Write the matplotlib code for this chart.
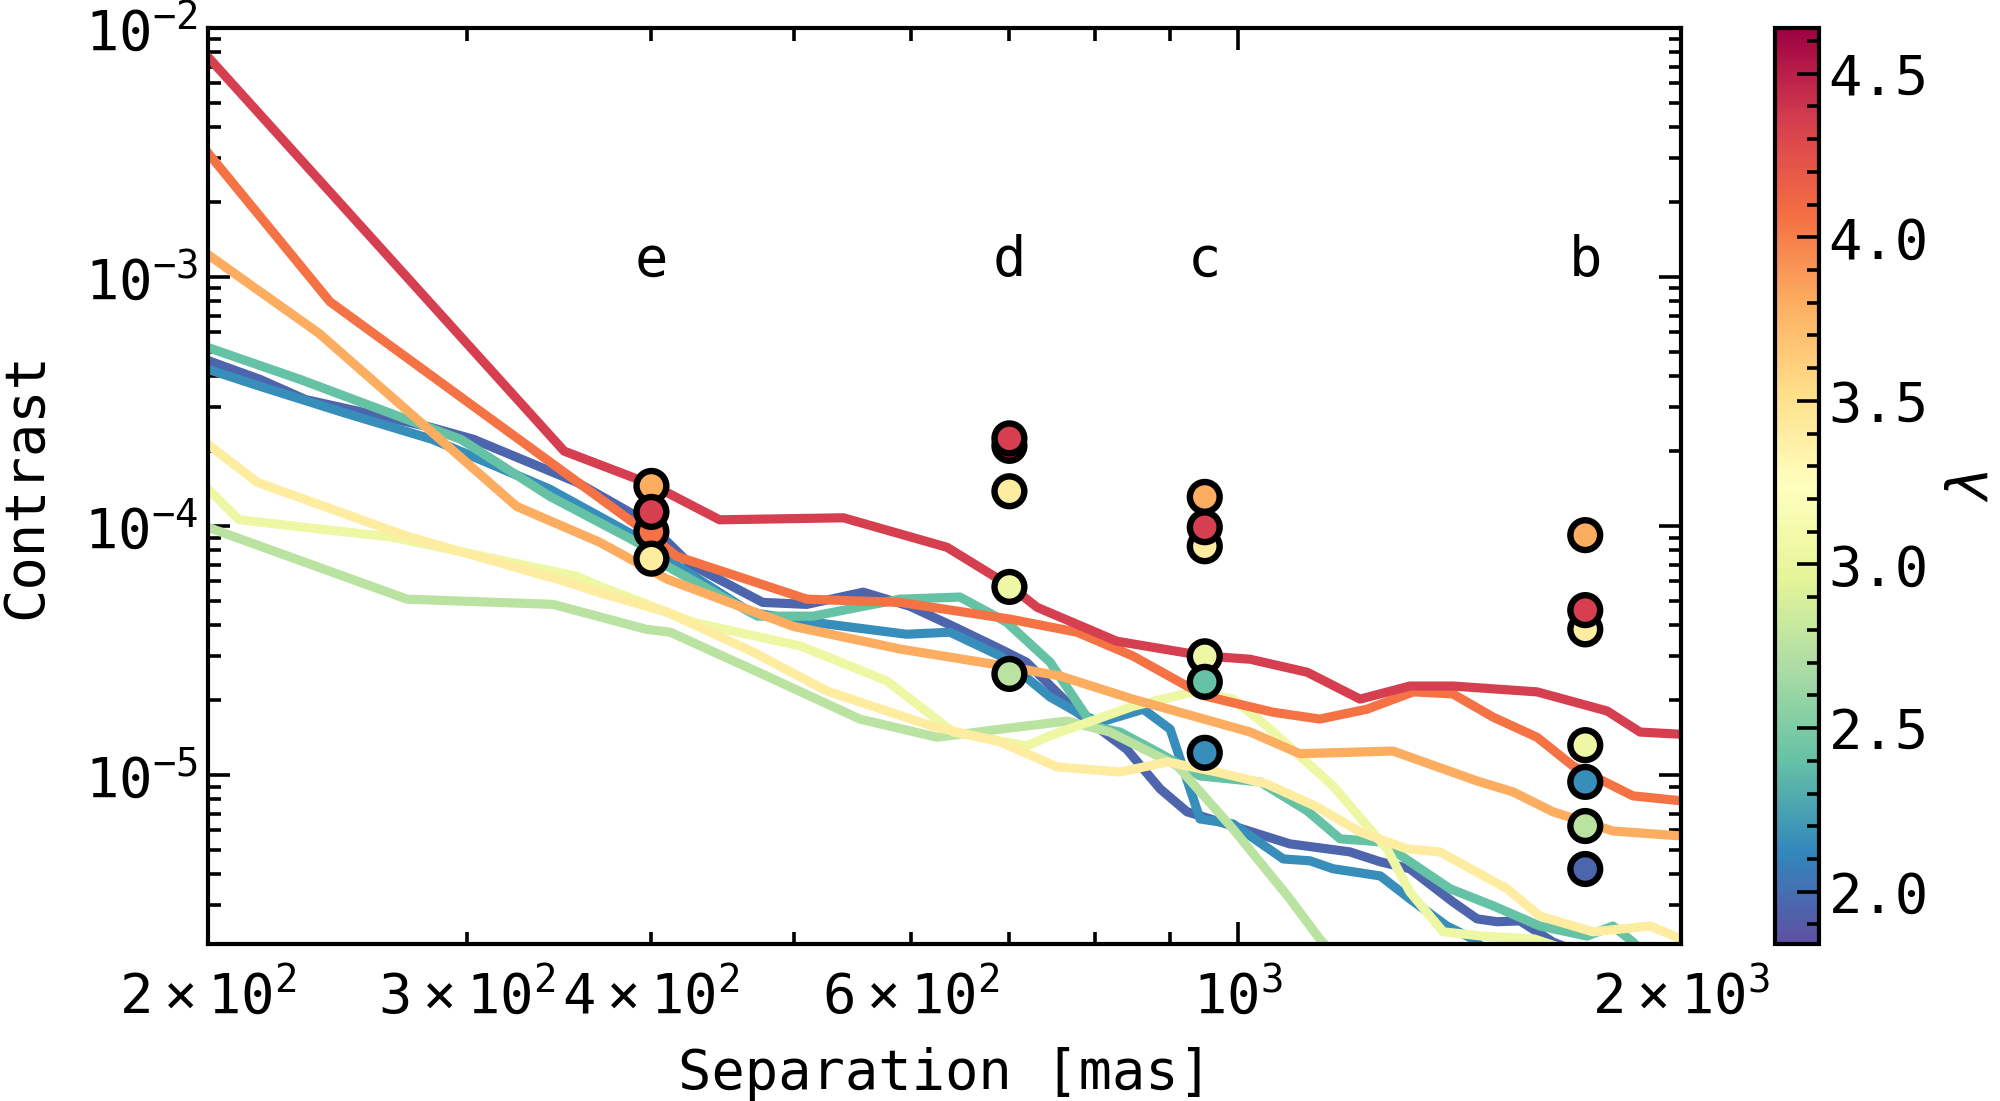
import matplotlib
matplotlib.use("Agg")
import matplotlib.pyplot as plt
from matplotlib.colors import Normalize
import numpy as np

plt.rcParams["font.family"] = "DejaVu Sans Mono"
plt.rcParams["mathtext.fontset"] = "custom"
plt.rcParams["mathtext.rm"] = "DejaVu Sans Mono"
plt.rcParams["font.size"] = 20

# contrast curves, one per wavelength [micron]
curve_lam = [1.95, 2.15, 2.4, 2.75, 3.05, 3.4, 3.8, 4.05, 4.35]

sep_195 = [200, 217, 233, 282, 303, 356, 397, 400, 425, 476, 510, 557, 599, 641, 690, 719, 778,
           841, 886, 924, 993, 1085, 1192, 1250, 1309, 1400, 1454, 1500, 1555, 1637, 1760]
con_195 = [4.62e-4, 3.88e-4, 3.22e-4, 2.51e-4, 2.23e-4, 1.50e-4, 1.04e-4, 9.98e-5, 7.03e-5, 4.94e-5,
           4.85e-5, 5.43e-5, 4.77e-5, 3.96e-5, 3.21e-5, 2.84e-5, 1.79e-5, 1.27e-5, 8.81e-6, 7.13e-6,
           6.25e-6, 5.30e-6, 4.92e-6, 4.49e-6, 4.21e-6, 3.10e-6, 2.65e-6, 2.58e-6, 2.60e-6, 2.14e-6, 1.8e-6]

sep_215 = [200, 217, 247, 284, 341, 397, 410, 467, 515, 596, 638, 690, 746, 778, 806, 863, 900,
           943, 993, 1074, 1120, 1161, 1250, 1309, 1387, 1445, 1500]
con_215 = [4.26e-4, 3.64e-4, 2.86e-4, 2.23e-4, 1.41e-4, 8.61e-5, 7.36e-5, 4.51e-5, 4.11e-5, 3.68e-5,
           3.75e-5, 3.01e-5, 2.06e-5, 1.79e-5, 1.63e-5, 1.84e-5, 1.53e-5, 6.67e-6, 6.37e-6, 4.61e-6,
           4.53e-6, 4.21e-6, 3.94e-6, 3.19e-6, 2.48e-6, 2.20e-6, 1.8e-6]

sep_240 = [200, 231, 273, 297, 341, 397, 410, 472, 515, 590, 648, 697, 746, 798, 832, 882, 943,
           1036, 1115, 1174, 1250, 1394, 1491, 1604, 1727, 1798, 1855, 1906]
con_240 = [5.21e-4, 3.88e-4, 2.68e-4, 2.23e-4, 1.32e-4, 8.22e-5, 6.90e-5, 4.35e-5, 4.35e-5, 5.09e-5,
           5.19e-5, 4.11e-5, 2.84e-5, 1.57e-5, 1.49e-5, 1.24e-5, 9.93e-6, 9.39e-6, 7.19e-6, 5.55e-6,
           5.40e-6, 3.50e-6, 2.99e-6, 2.48e-6, 2.26e-6, 2.48e-6, 2.14e-6, 1.8e-6]

sep_275 = [200, 273, 343, 397, 412, 479, 554, 625, 690, 766, 819, 910, 993, 1085, 1137, 1174]
con_275 = [9.89e-5, 5.09e-5, 4.85e-5, 3.85e-5, 3.75e-5, 2.50e-5, 1.68e-5, 1.42e-5, 1.53e-5, 1.65e-5,
           1.49e-5, 1.09e-5, 6.08e-6, 3.19e-6, 2.2e-6, 1.8e-6]

sep_305 = [200, 210, 267, 356, 369, 427, 505, 578, 641, 719, 746, 849, 933, 993, 1047, 1161, 1263,
           1309, 1379, 1466, 1590, 1760]
con_305 = [1.41e-4, 1.06e-4, 9.02e-5, 6.29e-5, 5.74e-5, 4.11e-5, 3.30e-5, 2.39e-5, 1.49e-5, 1.31e-5,
           1.44e-5, 1.89e-5, 2.16e-5, 2.02e-5, 1.57e-5, 9.05e-6, 5.06e-6, 3.40e-6, 2.35e-6, 2.26e-6,
           2.2e-6, 1.8e-6]

sep_340 = [200, 216, 273, 351, 369, 410, 469, 526, 621, 690, 754, 832, 896, 968, 1047, 1132, 1211,
           1303, 1372, 1524, 1604, 1743, 1906, 2000]
con_340 = [2.13e-4, 1.50e-4, 9.10e-5, 5.95e-5, 5.40e-5, 4.51e-5, 3.12e-5, 2.18e-5, 1.57e-5, 1.36e-5,
           1.08e-5, 1.03e-5, 1.13e-5, 1.03e-5, 9.22e-6, 7.46e-6, 5.92e-6, 5.06e-6, 4.92e-6, 3.50e-6,
           2.72e-6, 2.35e-6, 2.48e-6, 2.20e-6]

sep_380 = [200, 238, 324, 369, 410, 499, 590, 701, 758, 849, 1020, 1102, 1275, 1454, 1538, 1637,
           1798, 2000]
con_380 = [1.23e-3, 5.93e-4, 1.20e-4, 8.61e-5, 6.12e-5, 3.96e-5, 3.21e-5, 2.72e-5, 2.50e-5, 2.02e-5,
           1.49e-5, 1.22e-5, 1.25e-5, 9.48e-6, 8.57e-6, 7.13e-6, 5.97e-6, 5.70e-6]

sep_405 = [200, 242, 397, 416, 510, 590, 701, 778, 849, 950, 1057, 1137, 1224, 1316, 1400, 1491,
           1597, 1689, 1855, 2000]
con_405 = [3.15e-3, 7.96e-4, 9.44e-5, 7.57e-5, 5.09e-5, 4.94e-5, 4.23e-5, 3.75e-5, 3.01e-5, 2.08e-5,
           1.79e-5, 1.68e-5, 1.84e-5, 2.16e-5, 2.12e-5, 1.71e-5, 1.42e-5, 1.09e-5, 8.26e-6, 7.89e-6]

sep_435 = [200, 349, 400, 445, 540, 635, 701, 731, 828, 950, 1020, 1115, 1211, 1309, 1400, 1597,
           1782, 1876, 2000]
con_435 = [7.65e-3, 2.00e-4, 1.47e-4, 1.06e-4, 1.08e-4, 8.22e-5, 5.74e-5, 4.72e-5, 3.45e-5, 3.01e-5,
           2.92e-5, 2.59e-5, 2.02e-5, 2.28e-5, 2.28e-5, 2.16e-5, 1.81e-5, 1.49e-5, 1.46e-5]

curve_sep = [sep_195, sep_215, sep_240, sep_275, sep_305, sep_340, sep_380, sep_405, sep_435]
curve_con = [con_195, con_215, con_240, con_275, con_305, con_340, con_380, con_405, con_435]

# planet photometry
planet_names = ["e", "d", "c", "b"]
planet_sep = [400, 700, 950, 1722]
pt_planet = ["e", "e", "e", "e",
             "d", "d", "d", "d", "d",
             "c", "c", "c", "c", "c", "c",
             "b", "b", "b", "b", "b", "b", "b"]
pt_lam = [3.8, 4.05, 4.35, 3.4,
          4.6, 4.35, 3.4, 3.05, 2.75,
          3.8, 3.4, 4.35, 3.05, 2.4, 2.15,
          3.8, 3.4, 4.35, 3.05, 2.15, 2.75, 1.95]
pt_con = [1.45e-4, 9.5e-5, 1.14e-4, 7.4e-5,
          2.1e-4, 2.25e-4, 1.38e-4, 5.7e-5, 2.55e-5,
          1.31e-4, 8.3e-5, 9.9e-5, 3.0e-5, 2.37e-5, 1.23e-5,
          9.2e-5, 3.85e-5, 4.6e-5, 1.32e-5, 9.4e-6, 6.25e-6, 4.2e-6]

cmap = plt.get_cmap("Spectral_r")
norm = Normalize(vmin=1.84, vmax=4.64)

fig = plt.figure(figsize=(10, 5.505), dpi=200)
ax = fig.add_axes([0.104, 0.1426, 0.7365, 0.832])
cax = fig.add_axes([0.8875, 0.1426, 0.022, 0.832])

for lam, s, c in zip(curve_lam, curve_sep, curve_con):
    ax.plot(s, c, color=cmap(norm(lam)), lw=3.3, zorder=2)

sep_of = dict(zip(planet_names, planet_sep))
px = [sep_of[p] for p in pt_planet]
sc = ax.scatter(px, pt_con, c=pt_lam, cmap=cmap, norm=norm, s=115,
                edgecolors="k", linewidths=2.3, zorder=3)

for name, s in zip(planet_names, planet_sep):
    ax.text(s, 1.16e-3, name, ha="center", va="center", fontsize=20)

ax.set_xscale("log")
ax.set_yscale("log")
ax.set_xlim(200, 2000)
ax.set_ylim(2.1e-6, 1e-2)
ax.set_xlabel("Separation [mas]", fontsize=20, labelpad=8)
ax.set_ylabel("Contrast", fontsize=20, labelpad=11)
ax.tick_params(which="both", direction="in", top=True, right=True, width=1.3, labelsize=20)
ax.tick_params(which="major", length=8)
ax.tick_params(which="minor", length=4.5)
ax.tick_params(axis="x", which="both", pad=9)
for sp in ax.spines.values():
    sp.set_linewidth(1.5)

cb = fig.colorbar(sc, cax=cax)
cb.set_ticks([2.0, 2.5, 3.0, 3.5, 4.0, 4.5])
cb.ax.minorticks_on()
cb.ax.tick_params(which="both", direction="in", width=1.3, labelsize=20)
cb.ax.tick_params(which="major", length=8)
cb.ax.tick_params(which="minor", length=4.5)
cb.outline.set_linewidth(1.5)
cb.set_label(r"$\lambda$", fontsize=20, labelpad=6)

fig.savefig("out.png", dpi=200)
